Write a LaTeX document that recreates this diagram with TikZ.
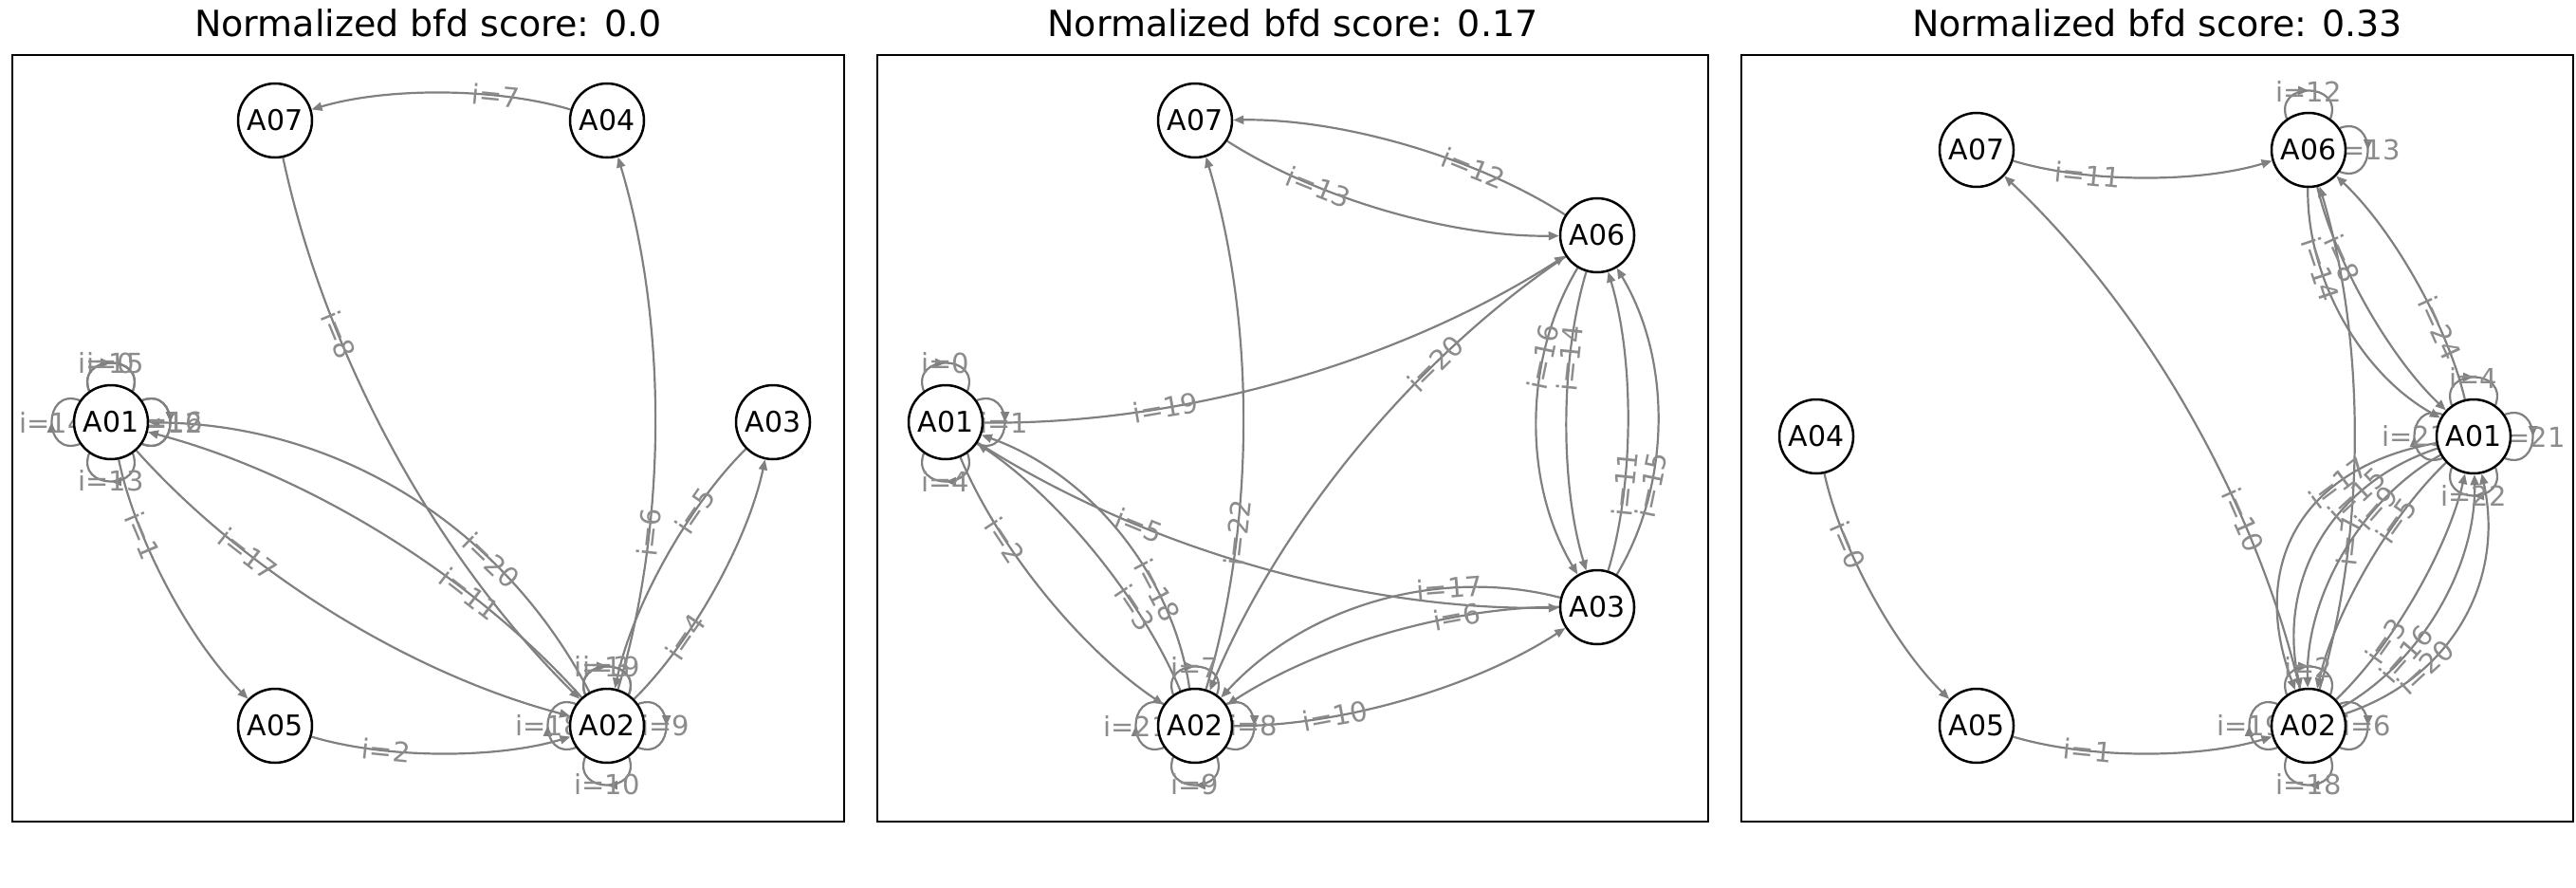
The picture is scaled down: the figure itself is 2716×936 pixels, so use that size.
\documentclass[tikz,border=0pt]{standalone}
\usepackage{fontspec}
\setmainfont{DejaVu Sans}
\usetikzlibrary{arrows.meta,calc,decorations.markings}
\definecolor{edgegray}{RGB}{128,128,128}
\definecolor{labgray}{RGB}{140,140,140}
\pgfdeclarelayer{bg}
\pgfsetlayers{bg,main}
\tikzset{
  nd/.style={circle, draw=black, fill=white, line width=2.5pt, minimum size=78pt, inner sep=0pt, font=\fontsize{30}{30}\selectfont},
  ged/.style={color=edgegray, line width=2.2pt, -{Triangle[length=11pt,width=9pt]}},
  glp/.style={color=edgegray, line width=2.2pt, postaction={decorate},
    decoration={markings, mark=at position 0.5 with {\arrow{Triangle[length=11pt,width=9pt]}}}},
  elab/.style={text=labgray, font=\fontsize{29}{29}\selectfont, inner sep=0pt},
  ttl/.style={font=\fontsize{38}{38}\selectfont, anchor=base},
  frm/.style={draw=black, line width=2pt}
}
% #1 from, #2 to, #3 rad, #4 label
\newcommand\ed[4]{%
  \draw[ged] let \p1=(#1), \p2=(#2) in
    (#1) .. controls ({\x1+((\x2)-(\x1))/3+2*#3*((\y2)-(\y1))/3},{\y1+((\y2)-(\y1))/3-2*#3*((\x2)-(\x1))/3})
         and ({\x2-((\x2)-(\x1))/3+2*#3*((\y2)-(\y1))/3},{\y2-((\y2)-(\y1))/3-2*#3*((\x2)-(\x1))/3}) .. (#2)
    node[elab, pos=0.3, sloped] {#4};
}
% #1 node, #2 angle, #3 label
\newcommand\lp[3]{%
  \pgfmathtruncatemacro\la{mod(#2+35+360,360)}%
  \pgfmathtruncatemacro\lb{mod(#2-35+360,360)}%
  \pgfmathtruncatemacro\lc{#2+20}%
  \pgfmathtruncatemacro\ld{#2-20}%
  \draw[glp] (#1.\la) .. controls +(\lc:42) and +(\ld:42) .. (#1.\lb);
  \node[elab] at ($(#1)+(#2:62)$) {#3};
}
\begin{document}
\begin{tikzpicture}[x=1pt,y=1pt]
\useasboundingbox (0,0) rectangle (2716,-936);
% titles and frames
\node[ttl] (t1) at (451.5,-39) {Normalized bfd score: 0.0};
\node[ttl] (t2) at (1363,-39) {Normalized bfd score: 0.17};
\node[ttl] (t3) at (2274.5,-39) {Normalized bfd score: 0.33};
\draw[frm] (13,-58) rectangle (890,-866);
\draw[frm] (925,-58) rectangle (1801,-866);
\draw[frm] (1836,-58) rectangle (2713,-866);
% ---------- panel 1 ----------
\node[nd] (aA07) at (290,-127) {A07};
\node[nd] (aA04) at (640,-127) {A04};
\node[nd] (aA01) at (117,-445) {A01};
\node[nd] (aA03) at (815,-445) {A03};
\node[nd] (aA05) at (290,-765) {A05};
\node[nd] (aA02) at (640,-765) {A02};
\begin{pgfonlayer}{bg}
\ed{aA01}{aA05}{0.15}{i=1}
\ed{aA05}{aA02}{0.15}{i=2}
\ed{aA02}{aA03}{0.15}{i=4}
\ed{aA03}{aA02}{0.15}{i=5}
\ed{aA02}{aA04}{0.15}{i=6}
\ed{aA04}{aA07}{0.15}{i=7}
\ed{aA07}{aA02}{0.15}{i=8}
\ed{aA02}{aA01}{0.15}{i=11}
\ed{aA01}{aA02}{0.15}{i=17}
\ed{aA02}{aA01}{0.30}{i=20}
\lp{aA01}{90}{i=0}
\lp{aA01}{0}{i=12}
\lp{aA01}{270}{i=13}
\lp{aA01}{180}{i=14}
\lp{aA01}{90}{i=15}
\lp{aA01}{0}{i=16}
\lp{aA02}{90}{i=3}
\lp{aA02}{0}{i=9}
\lp{aA02}{270}{i=10}
\lp{aA02}{180}{i=18}
\lp{aA02}{90}{i=19}
\end{pgfonlayer}
% ---------- panel 2 ----------
\node[nd] (bA07) at (1260,-127) {A07};
\node[nd] (bA06) at (1684,-248) {A06};
\node[nd] (bA01) at (997,-445) {A01};
\node[nd] (bA03) at (1684,-640) {A03};
\node[nd] (bA02) at (1260,-765) {A02};
\begin{pgfonlayer}{bg}
\ed{bA01}{bA02}{0.15}{i=2}
\ed{bA02}{bA01}{0.15}{i=3}
\ed{bA01}{bA03}{0.15}{i=5}
\ed{bA03}{bA02}{0.15}{i=6}
\ed{bA02}{bA03}{0.15}{i=10}
\ed{bA03}{bA06}{0.15}{i=11}
\ed{bA06}{bA07}{0.15}{i=12}
\ed{bA07}{bA06}{0.15}{i=13}
\ed{bA06}{bA03}{0.15}{i=14}
\ed{bA03}{bA06}{0.30}{i=15}
\ed{bA06}{bA03}{0.30}{i=16}
\ed{bA03}{bA02}{0.30}{i=17}
\ed{bA02}{bA01}{0.30}{i=18}
\ed{bA01}{bA06}{0.15}{i=19}
\ed{bA06}{bA02}{0.15}{i=20}
\ed{bA02}{bA07}{0.15}{i=22}
\lp{bA01}{90}{i=0}
\lp{bA01}{0}{i=1}
\lp{bA01}{270}{i=4}
\lp{bA02}{90}{i=7}
\lp{bA02}{0}{i=8}
\lp{bA02}{270}{i=9}
\lp{bA02}{180}{i=21}
\end{pgfonlayer}
% ---------- panel 3 ----------
\node[nd] (cA07) at (2084,-158) {A07};
\node[nd] (cA06) at (2434,-158) {A06};
\node[nd] (cA04) at (1915,-460) {A04};
\node[nd] (cA01) at (2608,-460) {A01};
\node[nd] (cA05) at (2084,-765) {A05};
\node[nd] (cA02) at (2434,-765) {A02};
\begin{pgfonlayer}{bg}
\ed{cA04}{cA05}{0.15}{i=0}
\ed{cA05}{cA02}{0.15}{i=1}
\ed{cA02}{cA01}{0.15}{i=3}
\ed{cA01}{cA02}{0.15}{i=5}
\ed{cA02}{cA06}{0.15}{i=7}
\ed{cA06}{cA01}{0.15}{i=8}
\ed{cA01}{cA02}{0.30}{i=9}
\ed{cA02}{cA07}{0.15}{i=10}
\ed{cA07}{cA06}{0.15}{i=11}
\ed{cA06}{cA01}{0.30}{i=14}
\ed{cA01}{cA02}{0.45}{i=15}
\ed{cA02}{cA01}{0.30}{i=16}
\ed{cA01}{cA02}{0.60}{i=17}
\ed{cA02}{cA01}{0.45}{i=20}
\ed{cA01}{cA06}{0.15}{i=24}
\lp{cA02}{90}{i=2}
\lp{cA02}{0}{i=6}
\lp{cA02}{270}{i=18}
\lp{cA02}{180}{i=19}
\lp{cA01}{90}{i=4}
\lp{cA01}{0}{i=21}
\lp{cA01}{270}{i=22}
\lp{cA01}{180}{i=23}
\lp{cA06}{90}{i=12}
\lp{cA06}{0}{i=13}
\end{pgfonlayer}
\end{tikzpicture}
\end{document}
